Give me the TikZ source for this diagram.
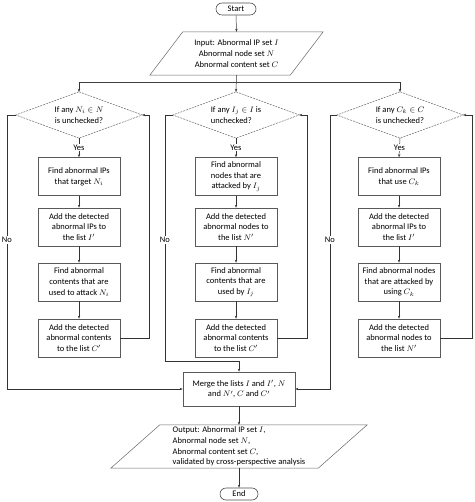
\documentclass[tikz,border=0pt]{standalone}
\usepackage{fontspec}
\setmainfont{Carlito}
\usetikzlibrary{arrows.meta,calc}
\begin{document}
\begin{tikzpicture}[x=1pt,y=-1pt,
  every node/.style={font=\fontsize{8.5}{10.7}\selectfont},
  box/.style={draw=black!65, line width=0.6pt, minimum width=82pt, minimum height=38pt, align=center, inner sep=0.5pt},
  ghost/.style={inner sep=0pt},
  arr/.style={-{Stealth[length=3pt,width=2.4pt]}, draw=black!80, line width=0.5pt},
  ln/.style={draw=black!75, line width=0.5pt},
  dia/.style={draw=black!60, line width=0.5pt, dash pattern=on 2pt off 1pt},
  para/.style={draw=black!60, line width=0.5pt},
  term/.style={draw=black!70, line width=0.6pt, rounded corners=6pt, minimum width=40pt, minimum height=12pt, inner sep=0pt},
  lab/.style={fill=white, inner sep=1pt}
]
\useasboundingbox (0,0) rectangle (474,502);

% terminals and inputs
\node[term] (start) at (236,9) {Start};
\node[ghost, minimum width=173pt, minimum height=43pt, align=center] (inp) at (236.5,53.5)
  {Input: Abnormal IP set $I$\\Abnormal node set $N$\\Abnormal content set $C$};
\draw[para] (inp.south west) -- ([xshift=33pt]inp.north west) -- (inp.north east) -- ([xshift=-33pt]inp.south east) -- cycle;

% decisions
\node[ghost, minimum width=126pt, minimum height=46pt, align=center] (d1) at (79,115) {If any $N_i \in N$\\is unchecked?};
\node[ghost, minimum width=126pt, minimum height=46pt, align=left] (d2) at (236,115) {If any $I_j \in I$ is\\unchecked?};
\node[ghost, minimum width=126pt, minimum height=46pt, align=center] (d3) at (400,115) {If any $C_k \in C$\\is unchecked?};
\foreach \d in {d1,d2,d3}{
  \draw[dia] (\d.north) -- (\d.east) -- (\d.south) -- (\d.west) -- cycle;
}

% left column
\node[box] (l1) at (79,176.5) {Find abnormal IPs\\that target $N_i$};
\node[box] (l2) at (79,227) {Add the detected\\abnormal IPs to\\the list $I'$};
\node[box] (l3) at (79,282) {Find abnormal\\contents that are\\used to attack $N_i$};
\node[box] (l4) at (79,338) {Add the detected\\abnormal contents\\to the list $C'$};

% middle column
\node[box] (m1) at (236,176.5) {Find abnormal\\nodes that are\\attacked by $I_j$};
\node[box] (m2) at (236,227) {Add the detected\\abnormal nodes to\\the list $N'$};
\node[box] (m3) at (236,282) {Find abnormal\\contents that are\\used by $I_j$};
\node[box] (m4) at (236,338) {Add the detected\\abnormal contents\\to the list $C'$};

% right column
\node[box] (r1) at (399,176.5) {Find abnormal IPs\\that use $C_k$};
\node[box] (r2) at (399,227) {Add the detected\\abnormal IPs to\\the list $I'$};
\node[box] (r3) at (399,282) {Find abnormal nodes\\that are attacked by\\using $C_k$};
\node[box] (r4) at (399,338) {Add the detected\\abnormal nodes to\\the list $N'$};

% merge, output, end
\node[box, minimum width=112pt, minimum height=34pt] (mg) at (239,389) {Merge the lists $I$ and $I'$, $N$\\and $N'$, $C$ and $C'$};
\node[ghost, minimum width=256pt, minimum height=43pt, align=left] (out) at (239,446.5)
  {Output: Abnormal IP set $I$,\\Abnormal node set $N$,\\Abnormal content set $C$,\\validated by cross-perspective analysis};
\draw[para] (out.south west) -- ([xshift=49pt]out.north west) -- (out.north east) -- ([xshift=-49pt]out.south east) -- cycle;
\node[term, minimum width=38pt] (end) at (239,494) {End};

% top connectors
\draw[arr] (start.south) -- (inp.north);
\draw[arr] (inp.south) -- (d2.north);
\coordinate (jl) at (79,82);
\coordinate (jr) at (400,82);
\draw[ln] (jl) -- (jr);
\draw[arr] (jl) -- (d1.north);
\draw[arr] (jr) -- (d3.north);

% yes branches
\draw[arr] (d1.south) -- node[lab]{Yes} (l1.north);
\draw[arr] (d2.south) -- node[lab]{Yes} (m1.north);
\draw[arr] (d3.south) -- node[lab]{Yes} (r1.north);
\foreach \c in {l,m,r}{
  \draw[arr] (\c1.south) -- (\c2.north);
  \draw[arr] (\c2.south) -- (\c3.north);
  \draw[arr] (\c3.south) -- (\c4.north);
}

% loop backs
\draw[arr] (l4.east) -- ++(29,0) |- (d1.east);
\draw[arr] (m4.east) -- ++(30,0) |- (d2.east);
\draw[arr] (r4.east) -- ++(32,0) |- (d3.east);

% no branches
\draw[arr] (d1.west) -- ++(-9,0) |- node[lab, pos=0.228]{No} (mg.west);
\draw[arr] (d2.west) -- ++(-8,0) |- node[lab, pos=0.253]{No} ($(mg.north)+(0,-10)$) -- (mg.north);
\draw[arr] (d3.west) -- ++(-7,0) |- node[lab, pos=0.228]{No} (mg.east);

% bottom connectors
\draw[arr] (mg.south) -- (out.north);
\draw[arr] (out.south) -- (end.north);
\end{tikzpicture}
\end{document}
